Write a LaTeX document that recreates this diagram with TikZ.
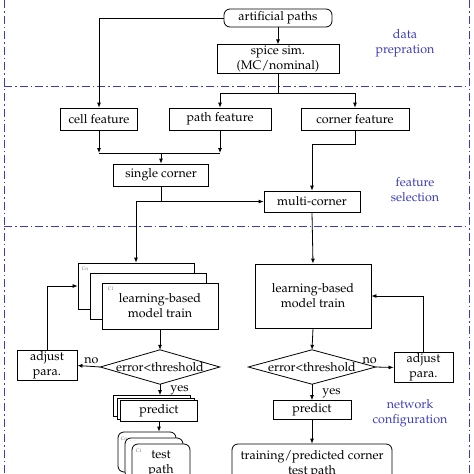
\documentclass[tikz,border=0pt]{standalone}
\usepackage[T1]{fontenc}
\usepackage{mathpazo}
\usetikzlibrary{arrows.meta}
\definecolor{zoneblue}{RGB}{60,60,190}

\begin{document}
\begin{tikzpicture}[x=1pt, y=-1pt, font=\fontsize{12.5}{15}\selectfont,
box/.style={draw, line width=0.8pt, fill=white, inner sep=1pt, align=center},
rbox/.style={box, rounded corners=6pt},
decision/.style={inner sep=0pt, align=center},
arr/.style={-{Latex[length=5pt,width=4pt]}, line width=0.8pt},
line/.style={line width=0.8pt},
zone/.style={zoneblue, line width=1pt, dash pattern=on 8pt off 3pt on 1.5pt off 3pt},
zonelabel/.style={text=zoneblue, align=center, font=\fontsize{12.5}{15}\selectfont},
tag/.style={text=gray, font=\fontsize{5}{5}\selectfont, anchor=north west, inner sep=0pt}]
\useasboundingbox (0,0) rectangle (474,474);
\clip (0,0) rectangle (474,474);

% zones
\draw[zone] (4,0) -- (4,474);
\draw[zone] (469,0) -- (469,474);
\draw[zone] (4,86) -- (469,86);
\draw[zone] (4,226) -- (469,226);
\node[zonelabel] (zdata) at (405,43) {data\\prepration};
\node[zonelabel] (zfeat) at (415,190) {feature\\selection};
\node[zonelabel] (znet) at (410,413) {network\\configuration};

% data preparation
\node[rbox, minimum width=108, minimum height=18] (art) at (278,18) {artificial paths};
\node[box, minimum width=122, minimum height=28] (spice) at (278,59) {spice sim.\\(MC/nominal)};

% features
\node[box, minimum width=77, minimum height=22] (cell) at (99,119) {cell feature};
\node[box, minimum width=102, minimum height=22] (pathf) at (220,119) {path feature};
\node[box, minimum width=108, minimum height=22] (cornf) at (355,119) {corner feature};
\node[box, minimum width=95, minimum height=22] (single) at (161,175) {single corner};
\node[box, minimum width=96, minimum height=21] (multi) at (312,201.5) {multi-corner};

% left column
\node[box, minimum width=116, minimum height=46] (lstk3) at (136,286) {};
\node[tag] at ([shift={(4,4)}]lstk3.north west) {Cn};
\node[box, minimum width=116, minimum height=46] (lstk2) at (148,296) {};
\node[tag] at ([shift={(6,3)}]lstk2.north west) {. . .};
\node[box, minimum width=116, minimum height=46] (lstk1) at (160,306) {learning-based\\model train};
\node[tag] at ([shift={(6,4)}]lstk1.north west) {C1};
\node[decision, minimum width=119, minimum height=34] (ldec) at (160,367) {error<threshold};
\draw[line] (ldec.west) -- (ldec.north) -- (ldec.east) -- (ldec.south) -- cycle;
\node[box, minimum width=60, minimum height=29] (ladj) at (47,365.5) {adjust\\para.};
\node[box, minimum width=77, minimum height=21] (lpre3) at (152,406) {};
\node[box, minimum width=77, minimum height=21] (lpre2) at (155.5,408.5) {};
\node[box, minimum width=77, minimum height=21] (lpre1) at (159,411) {predict};
\node[rbox, minimum width=58, minimum height=40] (ltest3) at (147,452) {};
\node[tag] at ([shift={(3,5)}]ltest3.north west) {Cn};
\node[rbox, minimum width=58, minimum height=40] (ltest2) at (154,458) {};
\node[tag] at ([shift={(5,3)}]ltest2.north west) {. . .};
\node[rbox, minimum width=58, minimum height=40] (ltest1) at (161,464) {test\\path};
\node[tag] at ([shift={(4,5)}]ltest1.north west) {C1};

% right column
\node[box, minimum width=116, minimum height=64] (rlearn) at (313,296) {learning-based\\model train};
\node[decision, minimum width=127, minimum height=34] (rdec) at (312,367) {error<threshold};
\draw[line] (rdec.west) -- (rdec.north) -- (rdec.east) -- (rdec.south) -- cycle;
\node[box, minimum width=59, minimum height=29] (radj) at (423.5,367.5) {adjust\\para.};
\node[box, minimum width=78, minimum height=19] (rpre) at (312,410) {predict};
\node[rbox, minimum width=160, minimum height=40] (rtrain) at (312,464) {training/predicted corner\\test path};

% connectors
\coordinate (spj) at (278,93);
\coordinate (mj) at (161,153);
\draw[arr] (art.west) -| (cell.north);
\draw[arr] (art.south) -- (spice.north);
\draw[line] (spice.south) -- (spj);
\draw[arr] (spj) -| (pathf.north);
\draw[arr] (spj) -| (cornf.north);
\draw[arr] (cell.south) -- (cell.south |- mj);
\draw[arr] (pathf.south) -- (pathf.south |- mj);
\draw[line] (cell.south |- mj) -- (pathf.south |- mj);
\draw[arr] (mj) -- (single.north);
\draw[arr] (cornf.south) -- ++(0,14) -| (multi.north);
\draw[arr] (single.south) |- (multi.west);
\draw[line] (single.south |- multi.west) -- (lstk3.north |- multi.west);
\draw[arr] (lstk3.north |- multi.west) -- (lstk3.north);
\draw[arr] (multi.south) -- (rlearn.north);

\draw[arr] (lstk1.south) -- (ldec.north);
\draw[arr] (ldec.west) -- node[pos=0, above, xshift=-9pt, yshift=2pt, inner sep=1pt] {no} (ladj.east);
\draw[arr] (ladj.north) |- (lstk3.west);
\draw[arr] (ldec.south) -- node[right, xshift=10pt, yshift=-1pt, inner sep=0pt] {yes} (ldec.south |- lpre3.north);
\draw[arr] (lpre1.south) -- (lpre1.south |- ltest3.north);

\draw[arr] (rlearn.south) -- (rdec.north);
\draw[arr] (rdec.east) -- node[pos=0, above, xshift=-6pt, yshift=2pt, inner sep=1pt] {no} (radj.west);
\draw[arr] (radj.north) |- (rlearn.east);
\draw[arr] (rdec.south) -- node[right, xshift=10pt, yshift=-1pt, inner sep=0pt] {yes} (rpre.north);
\draw[arr] (rpre.south) -- (rtrain.north);
\end{tikzpicture}
\end{document}
